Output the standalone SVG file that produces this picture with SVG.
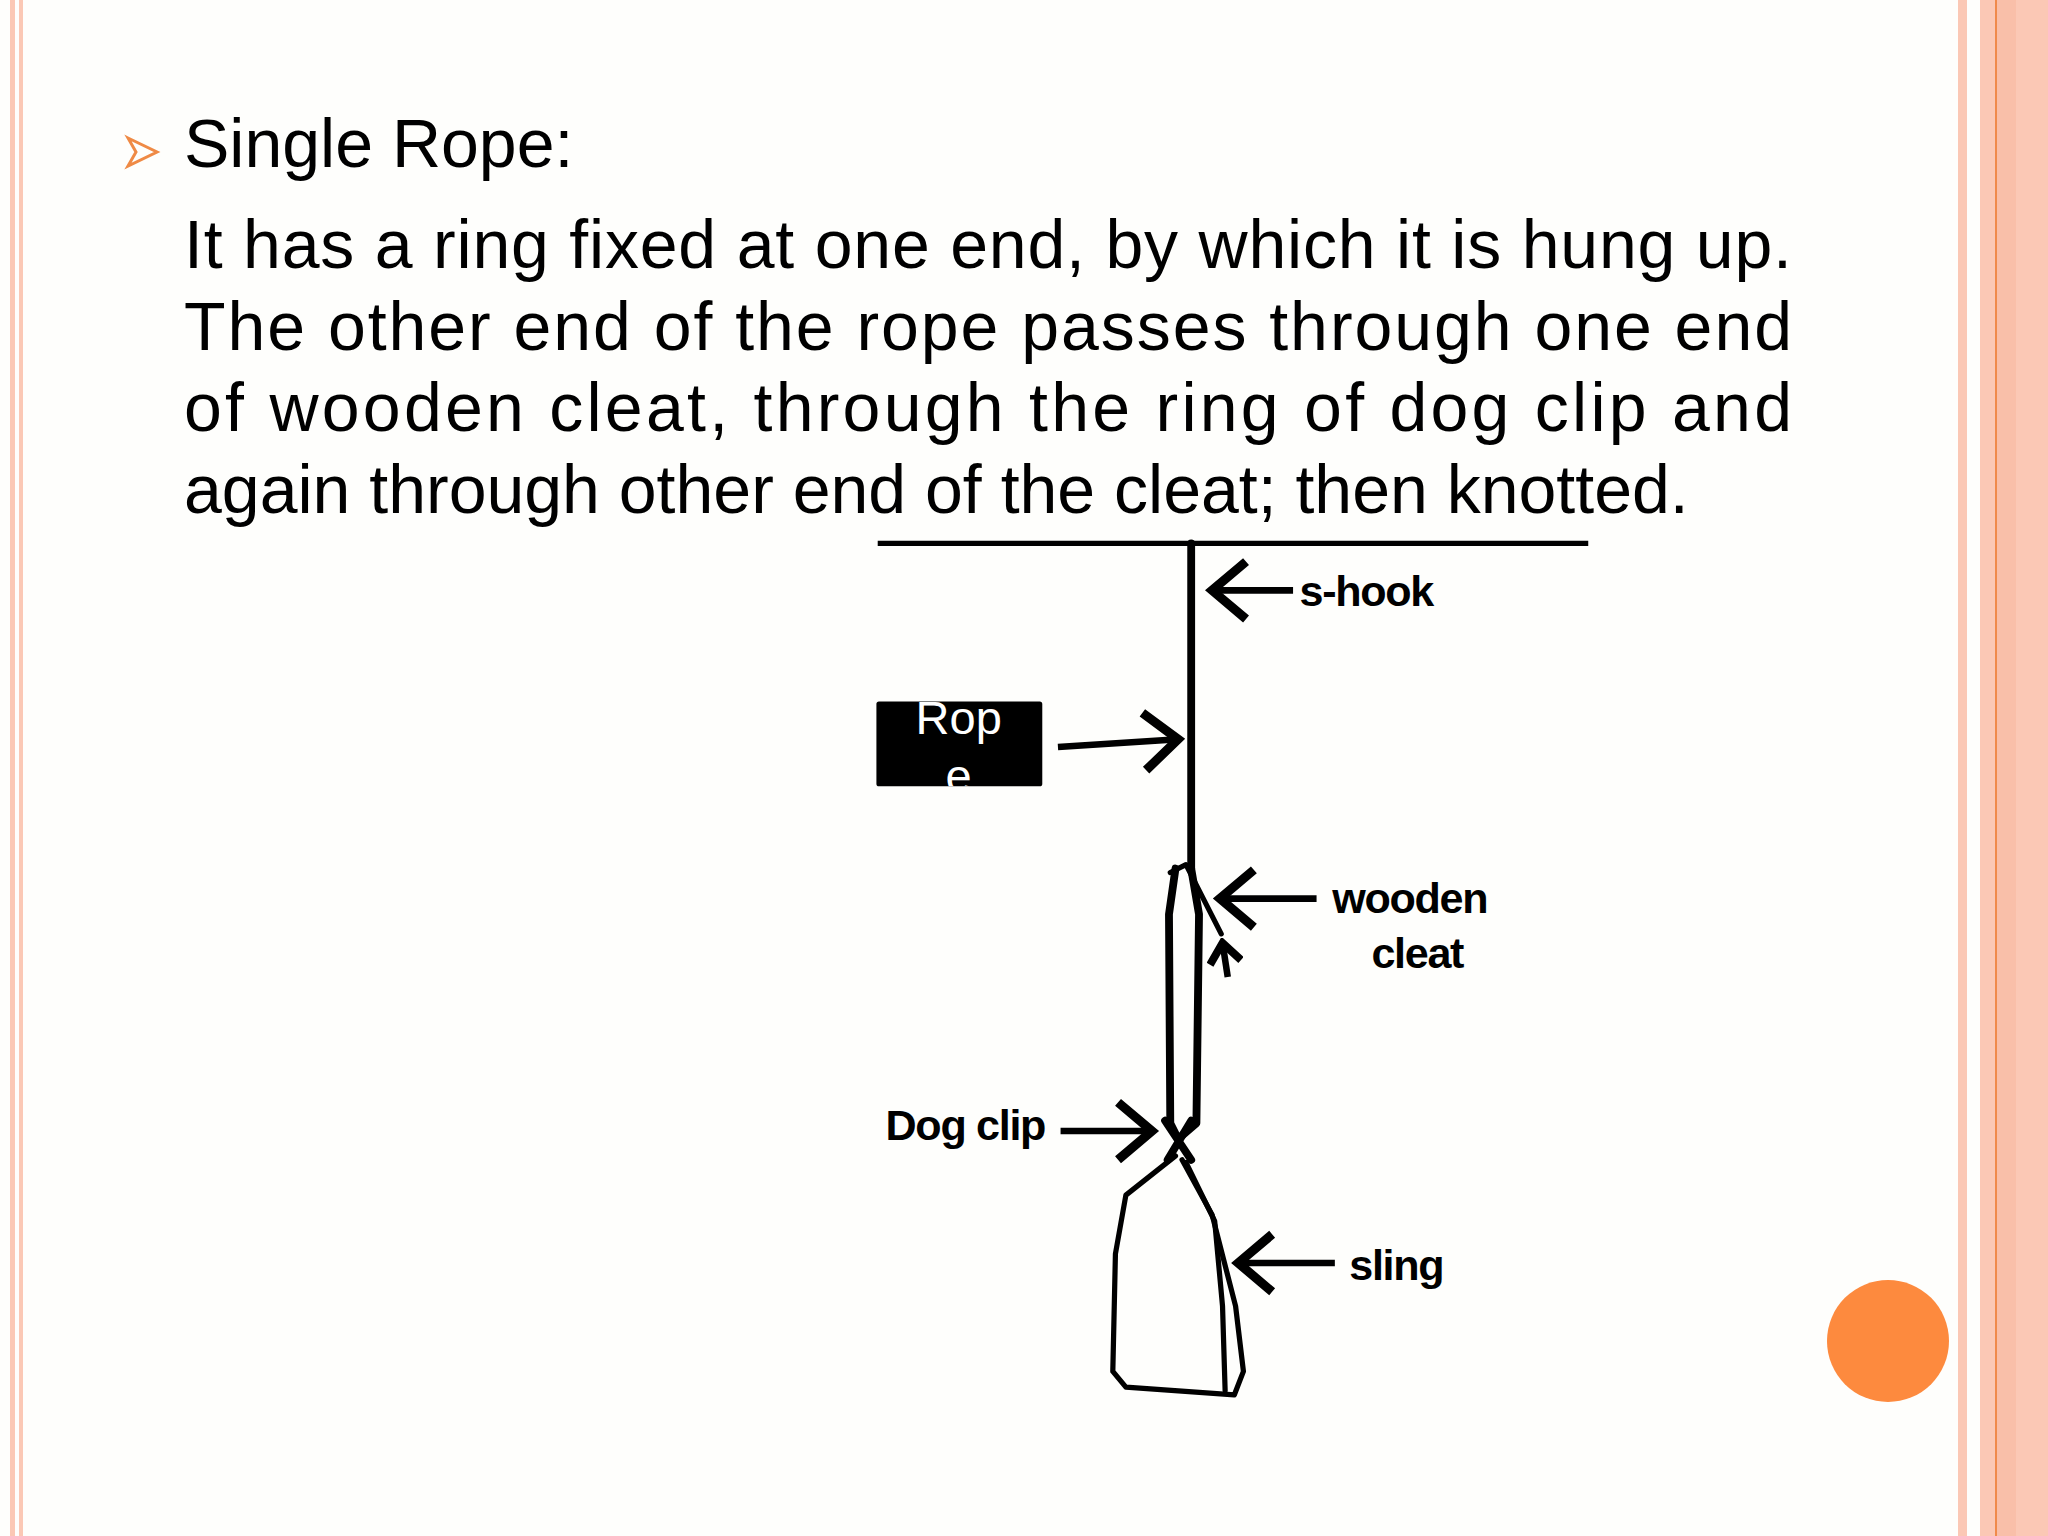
<svg xmlns="http://www.w3.org/2000/svg" width="2048" height="1536" viewBox="0 0 2048 1536">
<defs>
<marker id="ah" markerWidth="40" markerHeight="50" refX="34" refY="25" orient="auto" markerUnits="userSpaceOnUse" viewBox="0 0 40 50"><path d="M8,3 L34,25 L8,47" fill="none" stroke="#000" stroke-width="7" stroke-linejoin="miter"/></marker>
<marker id="ahs" markerWidth="24" markerHeight="28" refX="20" refY="14" orient="auto" markerUnits="userSpaceOnUse" viewBox="0 0 24 28"><path d="M5,2 L20,14 L5,26" fill="none" stroke="#000" stroke-width="6"/></marker>
<style>
.body{font-family:"Liberation Sans",Arial,sans-serif;font-size:68px;fill:#000}
.lbl{font-family:"Liberation Sans",Arial,sans-serif;font-weight:bold;font-size:33px;fill:#000;letter-spacing:-1px}
.rope{fill:none;stroke:#000;stroke-width:6;stroke-linecap:round;stroke-linejoin:round}
.thin{fill:none;stroke:#000;stroke-width:4;stroke-linecap:round;stroke-linejoin:round}
.arr{fill:none;stroke:#000;stroke-width:5;marker-end:url(#ah)}
</style>
</defs>
<rect width="2048" height="1536" fill="#fefefc"/>
<rect x="10" y="0" width="5" height="1536" fill="#fbc8b5"/>
<rect x="19" y="0" width="4" height="1536" fill="#fbc8b5"/>
<rect x="1958" y="0" width="9" height="1536" fill="#fbc8b5"/>
<rect x="1980" y="0" width="68" height="1536" fill="#fbc8b5"/>
<rect x="1996" y="0" width="20" height="1536" fill="#f9bfa9"/>
<rect x="1995" y="0" width="2" height="1536" fill="#f08a4b"/>
<circle cx="1888" cy="1341" r="61" fill="#fd8a3e"/>
<g id="text">
<path d="M128,138 L157,152 L128,166 L136,152 Z" fill="none" stroke="#ef8a45" stroke-width="3"/>
<text class="body" x="184" y="167">Single Rope:</text>
<text class="body" x="184" y="268" textLength="1608" lengthAdjust="spacing">It has a ring fixed at one end, by which it is hung up.</text>
<text class="body" x="184" y="350" textLength="1608" lengthAdjust="spacing">The  other  end  of  the  rope  passes  through  one   end</text>
<text class="body" x="184" y="431" textLength="1608" lengthAdjust="spacing">of  wooden  cleat,  through  the  ring  of  dog  clip  and</text>
<text class="body" x="184" y="513">again through other end of the cleat; then knotted.</text>
</g>
<g transform="scale(1.30612)">
<g id="ceiling"><line x1="672" y1="416" x2="1216" y2="416" stroke="#000" stroke-width="4"/></g>
<g id="rope-drawing">
<path class="rope" d="M912,416 L912,665"/>
<path class="rope" d="M900,665 L895,700 L896,860 L902,872"/>
<path class="rope" d="M912,665 L918,700 L916,860 L902,872"/>
<path class="thin" d="M896,668 L908,662 L935,715"/>
<path class="rope" d="M892,858 L912,888 M912,858 L894,888"/>
<path class="thin" d="M900,885 L862,915 L854,960 L852,1050 L862,1062 L945,1068 L952,1050 L946,1000 L928,930 L905,888"/>
<path class="thin" d="M908,890 L930,935 L936,1000 L938,1065"/>
</g>
<g id="rope-label">
<rect x="671" y="537" width="127" height="65" rx="2" fill="#000"/>
<text x="734" y="562" font-family="Liberation Sans, Arial, sans-serif" font-size="36" fill="#fff" text-anchor="middle">Rop</text>
<text x="734" y="606" font-family="Liberation Sans, Arial, sans-serif" font-size="36" fill="#fff" text-anchor="middle" clip-path="url(#rc)">e</text>
</g>
<clipPath id="rc"><rect x="671" y="537" width="127" height="65"/></clipPath>
<g id="s-hook"><text class="lbl" x="995" y="464">s-hook</text></g>
<g id="wooden-cleat"><text class="lbl" x="1020" y="699">wooden</text><text class="lbl" x="1050" y="741">cleat</text></g>
<g id="dog-clip"><text class="lbl" x="678" y="873">Dog clip</text></g>
<g id="sling"><text class="lbl" x="1033" y="980">sling</text></g>
<g id="connectors">
<line class="arr" x1="990" y1="452" x2="928" y2="452"/>
<line class="arr" x1="810" y1="572" x2="902" y2="566"/>
<line class="arr" x1="1008" y1="688" x2="934" y2="688"/>
<line fill="none" stroke="#000" stroke-width="5" marker-end="url(#ahs)" x1="940" y1="748" x2="936" y2="722"/>
<line class="arr" x1="812" y1="866" x2="882" y2="866"/>
<line class="arr" x1="1022" y1="967" x2="948" y2="967"/>
</g>
</g>
</svg>
